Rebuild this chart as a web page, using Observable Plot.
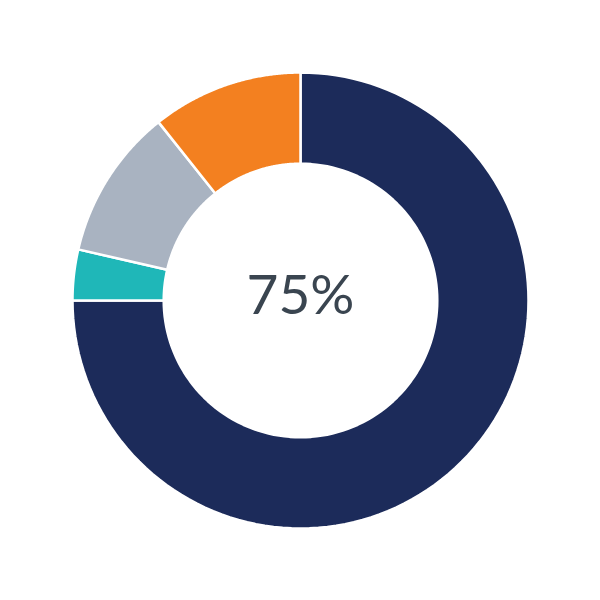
<!DOCTYPE html>
<html>
<head>
<meta charset="utf-8">
<script src="https://cdn.jsdelivr.net/npm/d3@7"></script>
<script src="https://cdn.jsdelivr.net/npm/@observablehq/plot@0.6"></script>
<style>
  html, body { margin: 0; padding: 0; background: #fff; }
</style>
</head>
<body>
<div id="chart"></div>
<script>
const categories = ["A", "B", "C", "D"];
const values = [75, 3.6, 10.7, 10.7];
const colors = ["#1c2b5a", "#1fb7b8", "#a9b3c1", "#f38020"];
const centerLabel = "75%";

const outerR = 1;
const innerR = 0.6;
const pie = d3.pie().sort(null).value(d => d.value)(categories.map((c, i) => ({ slice: c, value: values[i] })));

const points = [];
for (const a of pie) {
  const n = 120;
  for (let k = 0; k <= n; k++) {
    const t = a.startAngle + (a.endAngle - a.startAngle) * k / n;
    points.push({ slice: a.data.slice, x: outerR * Math.sin(t), y: outerR * Math.cos(t) });
  }
  for (let k = n; k >= 0; k--) {
    const t = a.startAngle + (a.endAngle - a.startAngle) * k / n;
    points.push({ slice: a.data.slice, x: innerR * Math.sin(t), y: innerR * Math.cos(t) });
  }
}

const chart = Plot.plot({
  width: 600,
  height: 600,
  margin: 72,
  x: { domain: [-1, 1], axis: null },
  y: { domain: [-1, 1], axis: null },
  color: { domain: categories, range: colors },
  style: { fontFamily: "Lato, sans-serif", background: "#fff" },
  marks: [
    Plot.line(points, { x: "x", y: "y", z: "slice", fill: "slice", stroke: "#fff", strokeWidth: 2.5, curve: "linear-closed" }),
    Plot.text([centerLabel], { x: () => 0, y: () => 0, text: d => d, fontSize: 55, fill: "#3a4550", dy: -4 })
  ]
});
document.getElementById("chart").appendChild(chart);
</script>
</body>
</html>
